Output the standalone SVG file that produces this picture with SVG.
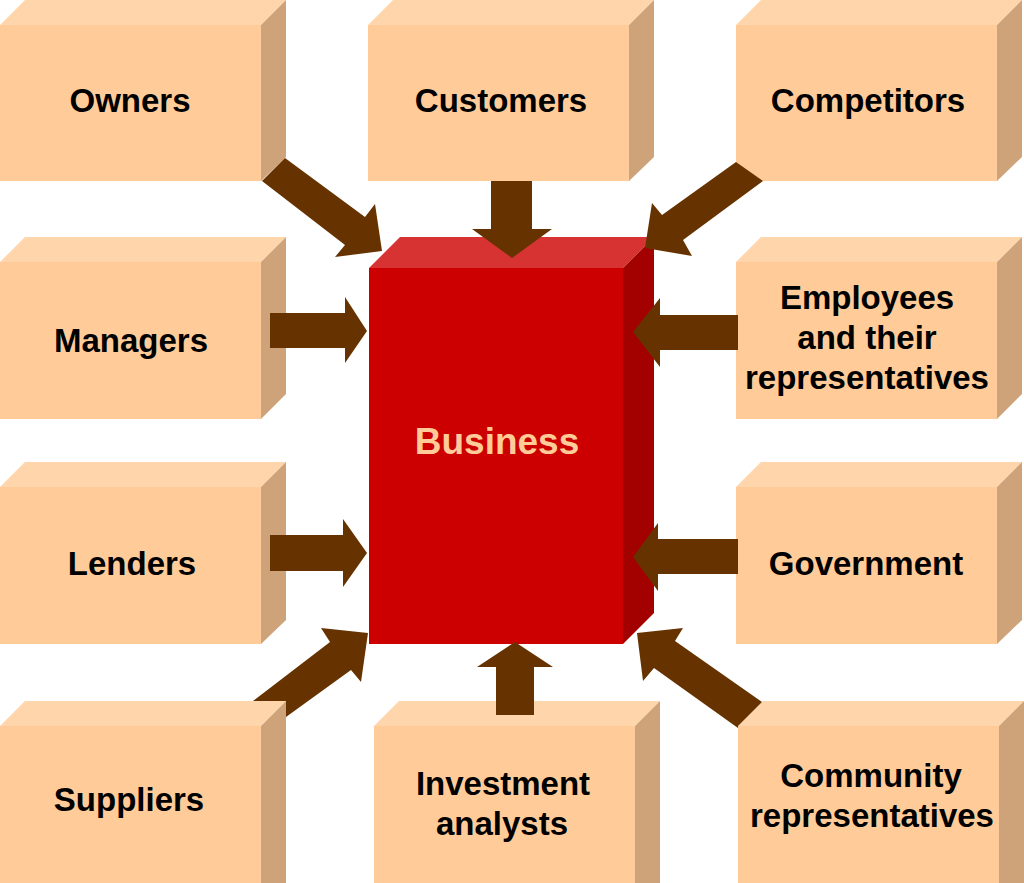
<svg xmlns="http://www.w3.org/2000/svg" width="1024" height="883" viewBox="0 0 1024 883">
<style>
.front{fill:#FFCC99}
.top{fill:#FFD6AC}
.side{fill:#CFA37A}
.bfront{fill:#CC0000}
.btop{fill:#D73333}
.bside{fill:#A30000}
.arrow{fill:#663300}
text{font-family:"Liberation Sans",Arial,sans-serif;font-weight:bold;font-size:33px;text-anchor:middle;fill:#000}
.btext{fill:#FFCC99;font-size:37px}
</style>
<rect width="1024" height="883" fill="#FFFFFF"/>
<g id="owners">
<polygon class="top" points="0,25 25,0 286,0 261,25"/>
<polygon class="side" points="261,25 286,0 286,157 261,181"/>
<rect class="front" x="0" y="25" width="261" height="156"/>
<text x="130" y="112">Owners</text>
</g>
<g id="customers">
<polygon class="top" points="368,25 393,0 654,0 629,25"/>
<polygon class="side" points="629,25 654,0 654,157 629,181"/>
<rect class="front" x="368" y="25" width="261" height="156"/>
<text x="501" y="112">Customers</text>
</g>
<g id="competitors">
<polygon class="top" points="736,25 761,0 1022,0 997,25"/>
<polygon class="side" points="997,25 1022,0 1022,157 997,181"/>
<rect class="front" x="736" y="25" width="261" height="156"/>
<text x="868" y="112">Competitors</text>
</g>
<g id="managers">
<polygon class="top" points="0,262 25,237 286,237 261,262"/>
<polygon class="side" points="261,262 286,237 286,394 261,419"/>
<rect class="front" x="0" y="262" width="261" height="157"/>
<text x="131" y="352">Managers</text>
</g>
<g id="employees">
<polygon class="top" points="736,262 761,237 1022,237 997,262"/>
<polygon class="side" points="997,262 1022,237 1022,394 997,419"/>
<rect class="front" x="736" y="262" width="261" height="157"/>
<text x="867" y="309">Employees</text>
<text x="867" y="349">and their</text>
<text x="867" y="389">representatives</text>
</g>
<g id="lenders">
<polygon class="top" points="0,487 25,462 286,462 261,487"/>
<polygon class="side" points="261,487 286,462 286,620 261,644"/>
<rect class="front" x="0" y="487" width="261" height="157"/>
<text x="132" y="575">Lenders</text>
</g>
<g id="government">
<polygon class="top" points="736,487 761,462 1022,462 997,487"/>
<polygon class="side" points="997,487 1022,462 1022,620 997,644"/>
<rect class="front" x="736" y="487" width="261" height="157"/>
<text x="866" y="575">Government</text>
</g>
<g id="suppliers">
<polygon class="top" points="0,726 25,701 286,701 261,726"/>
<polygon class="side" points="261,726 286,701 286,883 261,883"/>
<rect class="front" x="0" y="726" width="261" height="157"/>
<text x="129" y="811">Suppliers</text>
</g>
<g id="investment">
<polygon class="top" points="374,726 399,701 660,701 635,726"/>
<polygon class="side" points="635,726 660,701 660,883 635,883"/>
<rect class="front" x="374" y="726" width="261" height="157"/>
<text x="503" y="795">Investment</text>
<text x="502" y="835">analysts</text>
</g>
<g id="community">
<polygon class="top" points="738,726 763,701 1024,701 999,726"/>
<polygon class="side" points="999,726 1024,701 1024,883 999,883"/>
<rect class="front" x="738" y="726" width="261" height="157"/>
<text x="871" y="787">Community</text>
<text x="872" y="827">representatives</text>
</g>
<g id="business">
<polygon class="btop" points="369,268 400,237 654,237 623,268"/>
<polygon class="bside" points="623,268 654,237 654,613 623,644"/>
<rect class="bfront" x="369" y="268" width="254" height="376"/>
<text class="btext" x="497" y="454">Business</text>
</g>
<g id="connectors">
<polygon class="arrow" points="285,158 365,217 375,204 382,251 335,257 345,245 262,181"/>
<polygon class="arrow" points="491,181 532,181 532,229 552,229 512,258 472,229 491,229"/>
<polygon class="arrow" points="736,162 662,215 652,203 645,248 692,256 683,240 763,181"/>
<polygon class="arrow" points="270,313 345,313 345,297 367,331 345,363 345,348 270,348"/>
<polygon class="arrow" points="738,315 660,315 660,298 633,332 660,367 660,350 738,350"/>
<polygon class="arrow" points="270,535 343,535 343,519 367,553 343,587 343,571 270,571"/>
<polygon class="arrow" points="738,539 658,539 658,523 633,557 658,591 658,574 738,574"/>
<polygon class="arrow" points="253,701 330,642 321,628 368,633 361,682 351,670 286,717 286,701"/>
<polygon class="arrow" points="496,715 534,715 534,667 553,667 515,642 477,667 496,667"/>
<polygon class="arrow" points="637,633 683,628 675,641 762,702 738,726 738,728 654,668 643,681"/>
</g>
</svg>
